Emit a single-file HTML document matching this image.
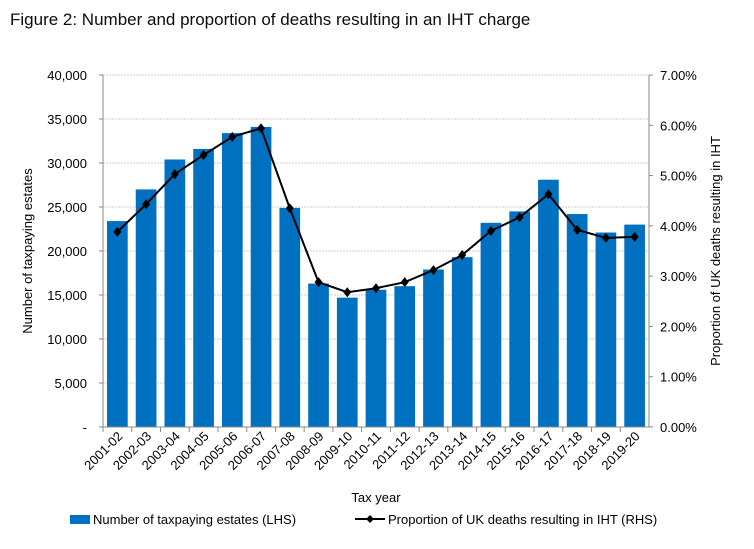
<!DOCTYPE html>
<html><head><meta charset="utf-8"><style>
body{margin:0;background:#fff;width:754px;height:544px;overflow:hidden;font-family:"Liberation Sans",sans-serif}
</style></head><body>
<svg width="754" height="544" id="c">
<text x="10" y="25" font-size="17" fill="#0b0c0c">Figure 2: Number and proportion of deaths resulting in an IHT charge</text>
<g id="grid"></g><g id="bars"></g><g id="axes"></g><g id="line"></g>
<text transform="translate(32,251) rotate(-90)" text-anchor="middle" font-size="13">Number of taxpaying estates</text>
<text transform="translate(720,251) rotate(-90)" text-anchor="middle" font-size="13">Proportion of UK deaths resulting in IHT</text>
<text x="376" y="502" text-anchor="middle" font-size="13">Tax year</text>
<g>
<rect x="70" y="515" width="20" height="9" fill="#0070c0"/>
<text x="93" y="524" font-size="13">Number of taxpaying estates (LHS)</text>
<line x1="355" y1="519" x2="385" y2="519" stroke="#000" stroke-width="2"/>
<path d="M370 515 L374 519 L370 523 L366 519Z" fill="#000"/>
<text x="388" y="524" font-size="13">Proportion of UK deaths resulting in IHT (RHS)</text>
</g>
</svg>
<script>
const categories=["2001-02","2002-03","2003-04","2004-05","2005-06","2006-07","2007-08","2008-09","2009-10","2010-11","2011-12","2012-13","2013-14","2014-15","2015-16","2016-17","2017-18","2018-19","2019-20"];
const estates=[23400,27000,30400,31600,33400,34100,24900,16300,14700,15600,16000,17900,19300,23200,24500,28100,24200,22100,23000];
const proportion=[3.88,4.43,5.03,5.41,5.77,5.94,4.35,2.88,2.68,2.76,2.88,3.12,3.42,3.90,4.17,4.63,3.92,3.76,3.78];
const leftTicks=[0,5000,10000,15000,20000,25000,30000,35000,40000];
const rightTicks=[0,1,2,3,4,5,6,7];
const NS="http://www.w3.org/2000/svg";
const L=103,R=649,T=75,B=427;
const step=(R-L)/categories.length;
const xc=i=>L+step*(i+0.5);
const yL=v=>B-(v/40000)*(B-T);
const yR=v=>B-(v/7)*(B-T);
function mk(tag,attrs,parent){const e=document.createElementNS(NS,tag);for(const k in attrs)e.setAttribute(k,attrs[k]);parent.appendChild(e);return e;}
const g=document.getElementById('grid'),bg=document.getElementById('bars'),ax=document.getElementById('axes'),lg=document.getElementById('line');
leftTicks.forEach(v=>{
 if(v>0){const l=mk('line',{x1:L,x2:R,y1:yL(v),y2:yL(v),stroke:'#ccc','stroke-dasharray':'2,1'},g);
 
 }
 const t=mk('text',{x:L-16,y:yL(v)+5,'text-anchor':'end','font-size':'13'},ax);
 t.textContent=v===0?'-':v.toLocaleString('en-US');
 
 
 mk('line',{x1:L-4,x2:L,y1:yL(v),y2:yL(v),stroke:'#888'},ax);
});
rightTicks.forEach(v=>{
 const t=mk('text',{x:R+11,y:yR(v)+5,'font-size':'13'},ax);
 t.textContent=v.toFixed(2)+'%';
 
 
 mk('line',{x1:R,x2:R+4,y1:yR(v),y2:yR(v),stroke:'#888'},ax);
});
mk('line',{x1:L,x2:L,y1:T,y2:B,stroke:'#888'},ax);
mk('line',{x1:R,x2:R,y1:T,y2:B,stroke:'#888'},ax);
mk('line',{x1:L,x2:R,y1:B,y2:B,stroke:'#888'},ax);
categories.forEach((c,i)=>{
 const bw=step*0.72;
 const r=mk('rect',{x:xc(i)-bw/2,y:yL(estates[i]),width:bw,height:B-yL(estates[i]),fill:'#0070c0'},bg);
 
 
 mk('line',{x1:L+step*i,x2:L+step*i,y1:B,y2:B+5,stroke:'#888'},ax);
 const t=mk('text',{transform:`translate(${xc(i)+6},${B+10}) rotate(-45)`,'text-anchor':'end','font-size':'13'},ax);
 t.textContent=c;
 
 
});
const p=mk('polyline',{points:proportion.map((v,i)=>xc(i)+','+yR(v)).join(' '),fill:'none',stroke:'#000','stroke-width':2},lg);


proportion.forEach((v,i)=>{
 const x=xc(i),y=yR(v);
 const d=mk('path',{d:`M${x} ${y-5}L${x+4} ${y}L${x} ${y+5}L${x-4} ${y}Z`,fill:'#000'},lg);
 
 
});
</script>
</body></html>
